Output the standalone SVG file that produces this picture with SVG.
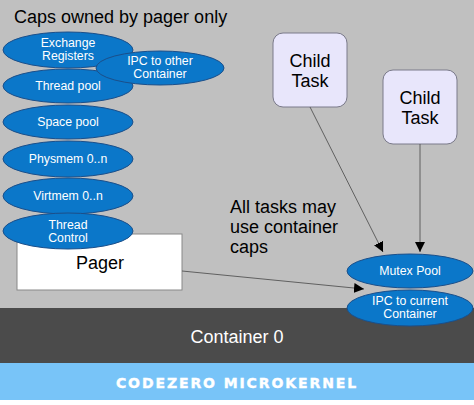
<svg xmlns="http://www.w3.org/2000/svg" width="474" height="405" viewBox="0 0 474 405">
<defs>
<style>
.cap{fill:#0b77c9;stroke:#1b4f8a;stroke-width:1}
.ct{fill:#fff;font-family:"Liberation Sans",Arial,sans-serif;font-size:12.3px;text-anchor:middle}
.big{font-family:"Liberation Sans",Arial,sans-serif;font-size:18px;fill:#000}
.task{fill:#e8e6fb;stroke:#7a7a8a;stroke-width:1}
.conn{stroke:#555;stroke-width:0.9;fill:none;marker-end:url(#arr)}
</style>
<marker id="arr" viewBox="0 0 10 10" refX="10" refY="5" markerWidth="10" markerHeight="10" markerUnits="userSpaceOnUse" orient="auto">
<path d="M0,0 L10,5 L0,10 z" fill="#000"/>
</marker>
</defs>
<rect x="0" y="0" width="474" height="308" fill="#c0c0c0"/>
<rect x="0" y="308" width="474" height="55" fill="#4b4b4b"/>
<rect x="0" y="363" width="474" height="37" fill="#78c4f8"/>
<rect x="0" y="400" width="474" height="5" fill="#fff"/>
<text x="14" y="23" class="big" font-size="18.5">Caps owned by pager only</text>
<text x="237" y="343" text-anchor="middle" font-family="Liberation Sans,Arial,sans-serif" font-size="18" fill="#fff">Container 0</text>
<text x="237" y="388" text-anchor="middle" font-family="DejaVu Sans,sans-serif" font-weight="bold" font-size="14" letter-spacing="1.9" fill="#fff" stroke="#fff" stroke-width="0.4">CODEZERO MICROKERNEL</text>
<text class="big" font-size="19"><tspan x="230" y="213">All tasks may</tspan><tspan x="230" y="233">use container</tspan><tspan x="230" y="253">caps</tspan></text>
<g id="pager"><rect x="17" y="234" width="165" height="56" fill="#fff" stroke="#888"/><text x="100" y="269" class="big" text-anchor="middle">Pager</text></g>
<g id="exchange"><ellipse class="cap" cx="68" cy="50" rx="65" ry="18"/><text class="ct"><tspan x="68" y="47">Exchange</tspan><tspan x="68" y="60">Registers</tspan></text></g>
<g id="threadpool"><ellipse class="cap" cx="68" cy="86" rx="65" ry="17"/><text class="ct" x="68" y="90">Thread pool</text></g>
<g id="ipcother"><ellipse class="cap" cx="160" cy="68" rx="64" ry="17"/><text class="ct"><tspan x="160" y="65">IPC to other</tspan><tspan x="160" y="78">Container</tspan></text></g>
<g id="spacepool"><ellipse class="cap" cx="68" cy="122" rx="65" ry="17"/><text class="ct" x="68" y="126">Space pool</text></g>
<g id="physmem"><ellipse class="cap" cx="68" cy="159" rx="65" ry="18"/><text class="ct" x="68" y="163">Physmem 0..n</text></g>
<g id="virtmem"><ellipse class="cap" cx="68" cy="196" rx="65" ry="18"/><text class="ct" x="68" y="200">Virtmem 0..n</text></g>
<g id="threadcontrol"><ellipse class="cap" cx="68" cy="231" rx="65" ry="18"/><text class="ct"><tspan x="68" y="229">Thread</tspan><tspan x="68" y="242">Control</tspan></text></g>
<g id="child1"><rect class="task" x="273" y="33" width="74" height="74" rx="10"/><text class="big" text-anchor="middle"><tspan x="310" y="67">Child</tspan><tspan x="310" y="87">Task</tspan></text></g>
<g id="child2"><rect class="task" x="383" y="70" width="74" height="74" rx="10"/><text class="big" text-anchor="middle"><tspan x="420" y="104">Child</tspan><tspan x="420" y="124">Task</tspan></text></g>
<g id="connectors">
<line class="conn" x1="310" y1="107" x2="383" y2="252"/>
<line class="conn" x1="420" y1="144" x2="420" y2="252"/>
<line class="conn" x1="182" y1="271" x2="364" y2="289"/>
</g>
<g id="mutex"><ellipse class="cap" cx="410" cy="271" rx="63" ry="17"/><text class="ct" x="410" y="275">Mutex Pool</text></g>
<g id="ipccurrent"><ellipse class="cap" cx="410" cy="308" rx="63" ry="18"/><text class="ct"><tspan x="410" y="305">IPC to current</tspan><tspan x="410" y="318">Container</tspan></text></g>
</svg>
